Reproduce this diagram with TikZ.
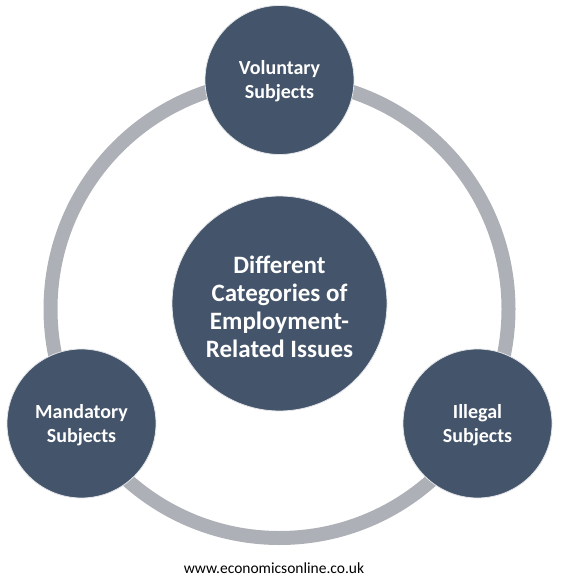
\documentclass[tikz,border=0pt]{standalone}
\usepackage{fontspec}
\setmainfont{Carlito}
\definecolor{slate}{RGB}{68,84,106}
\definecolor{ringgray}{RGB}{173,176,182}
\newcommand{\topstrut}[1]{\rule{0pt}{#1}}
\newcommand{\botstrut}[1]{\rule[-#1]{0pt}{#1}}
\begin{document}
\begin{tikzpicture}[x=1pt,y=-1pt,
  bub/.style={circle, fill=slate, draw=white!85!slate, line width=0.8pt, text=white,
    font=\bfseries\fontsize{20}{24}\selectfont, align=center, minimum size=149pt, inner sep=0pt},
  hub/.style={bub, minimum size=215pt, font=\bfseries\fontsize{25}{28}\selectfont},
  ring/.style={draw=ringgray, line width=14pt}]
\useasboundingbox (0,0) rectangle (560,585);
\coordinate (rc) at (279.5,309);
\draw[ring] (rc) circle[radius=229];
\node[hub] (hub) at (279.5,303.5) {\topstrut{24pt}Different\\Categories of\\Employment-\\Related Issues\botstrut{0pt}};
\node[bub] (vol) at (279.5,80) {\topstrut{18pt}Voluntary\\Subjects\botstrut{4pt}};
\node[bub] (man) at (81.5,423.5) {\topstrut{18pt}Mandatory\\Subjects\botstrut{4pt}};
\node[bub] (ill) at (477.5,423.5) {\topstrut{18pt}Illegal\\Subjects\botstrut{4pt}};
\node[anchor=base, font=\fontsize{15.5}{18}\selectfont, inner sep=0pt] (web) at (274,573) {www.economicsonline.co.uk};
\end{tikzpicture}
\end{document}
